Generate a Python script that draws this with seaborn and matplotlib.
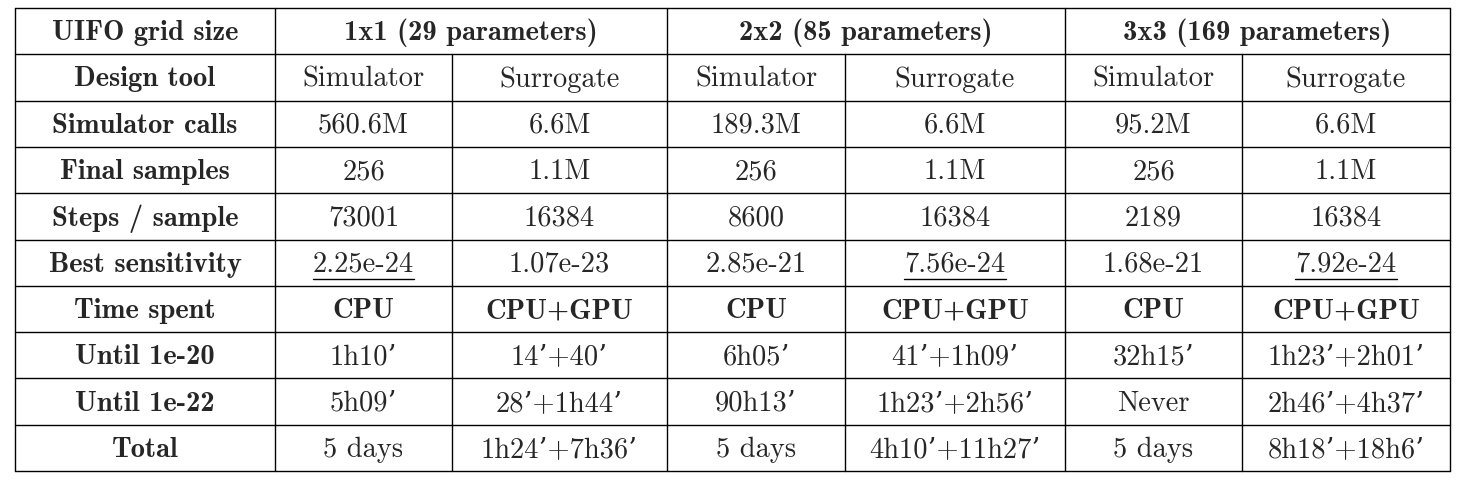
import matplotlib
matplotlib.use("Agg")
import matplotlib.pyplot as plt
import seaborn as sns

sns.set_theme(style="white")
plt.rcParams['axes.formatter.use_mathtext'] = True

header = ["UIFO grid size", "1x1 (29 parameters)", "2x2 (85 parameters)", "3x3 (169 parameters)"]
row_labels = ["Design tool", "Simulator calls", "Final samples", "Steps / sample",
              "Best sensitivity", "Time spent", "Until 1e-20", "Until 1e-22", "Total"]
cells = [
    ["Simulator", "Surrogate", "Simulator", "Surrogate", "Simulator", "Surrogate"],
    ["560.6M", "6.6M", "189.3M", "6.6M", "95.2M", "6.6M"],
    ["256", "1.1M", "256", "1.1M", "256", "1.1M"],
    ["73001", "16384", "8600", "16384", "2189", "16384"],
    ["2.25e-24", "1.07e-23", "2.85e-21", "7.56e-24", "1.68e-21", "7.92e-24"],
    ["CPU", "CPU+GPU", "CPU", "CPU+GPU", "CPU", "CPU+GPU"],
    ["1h10’", "14’+40’", "6h05’", "41’+1h09’", "32h15’", "1h23’+2h01’"],
    ["5h09’", "28’+1h44’", "90h13’", "1h23’+2h56’", "Never", "2h46’+4h37’"],
    ["5 days", "1h24’+7h36’", "5 days", "4h10’+11h27’", "5 days", "8h18’+18h6’"],
]
underlined = [(4, 0), (4, 3), (4, 5)]
bold_rows = [5]

fig = plt.figure(figsize=(14.65, 4.96), dpi=100)
ax = fig.add_axes([0, 0, 1, 1])
ax.set_xlim(0, 1465); ax.set_ylim(496, 0); ax.axis('off')

xs = [15, 275, 452, 667, 845, 1065, 1242, 1450]
top, bot = 8, 471
nrows = 10
rh = (bot - top) / nrows
lw = 1.0
REG = dict(family=['cmr10', 'DejaVu Serif'], fontsize=20.5)
BLD = dict(family=['cmb10', 'DejaVu Serif'], fontsize=20.5)

for i in range(nrows + 1):
    ax.plot([xs[0], xs[-1]], [top + i * rh] * 2, color='black', lw=lw)
for j, x in enumerate(xs):
    y0 = top if j in (0, 1, 3, 5, 7) else top + rh
    ax.plot([x, x], [y0, bot], color='black', lw=lw)

def cy(i):
    return top + (i + 0.5) * rh + 2

ax.text((xs[0] + xs[1]) / 2, cy(0), header[0], ha='center', va='center', **BLD)
for k in range(3):
    ax.text((xs[1 + 2 * k] + xs[3 + 2 * k]) / 2, cy(0), header[k + 1], ha='center', va='center', **BLD)

texts = {}
for r, lab in enumerate(row_labels):
    ax.text((xs[0] + xs[1]) / 2, cy(r + 1), lab, ha='center', va='center', **BLD)
    for c, val in enumerate(cells[r]):
        style = BLD if r in bold_rows else REG
        t = ax.text((xs[c + 1] + xs[c + 2]) / 2, cy(r + 1), val, ha='center', va='center', **style)
        texts[(r, c)] = t

fig.canvas.draw()
rend = fig.canvas.get_renderer()
inv = ax.transData.inverted()
for (r, c) in underlined:
    bb = texts[(r, c)].get_window_extent(rend)
    (x0, y0), (x1, y1) = inv.transform([(bb.x0, bb.y0), (bb.x1, bb.y1)])
    yl = max(y0, y1) + 1
    ax.plot([x0, x1], [yl, yl], color='black', lw=1.0)

fig.savefig("out.png", dpi=100, facecolor='white')
